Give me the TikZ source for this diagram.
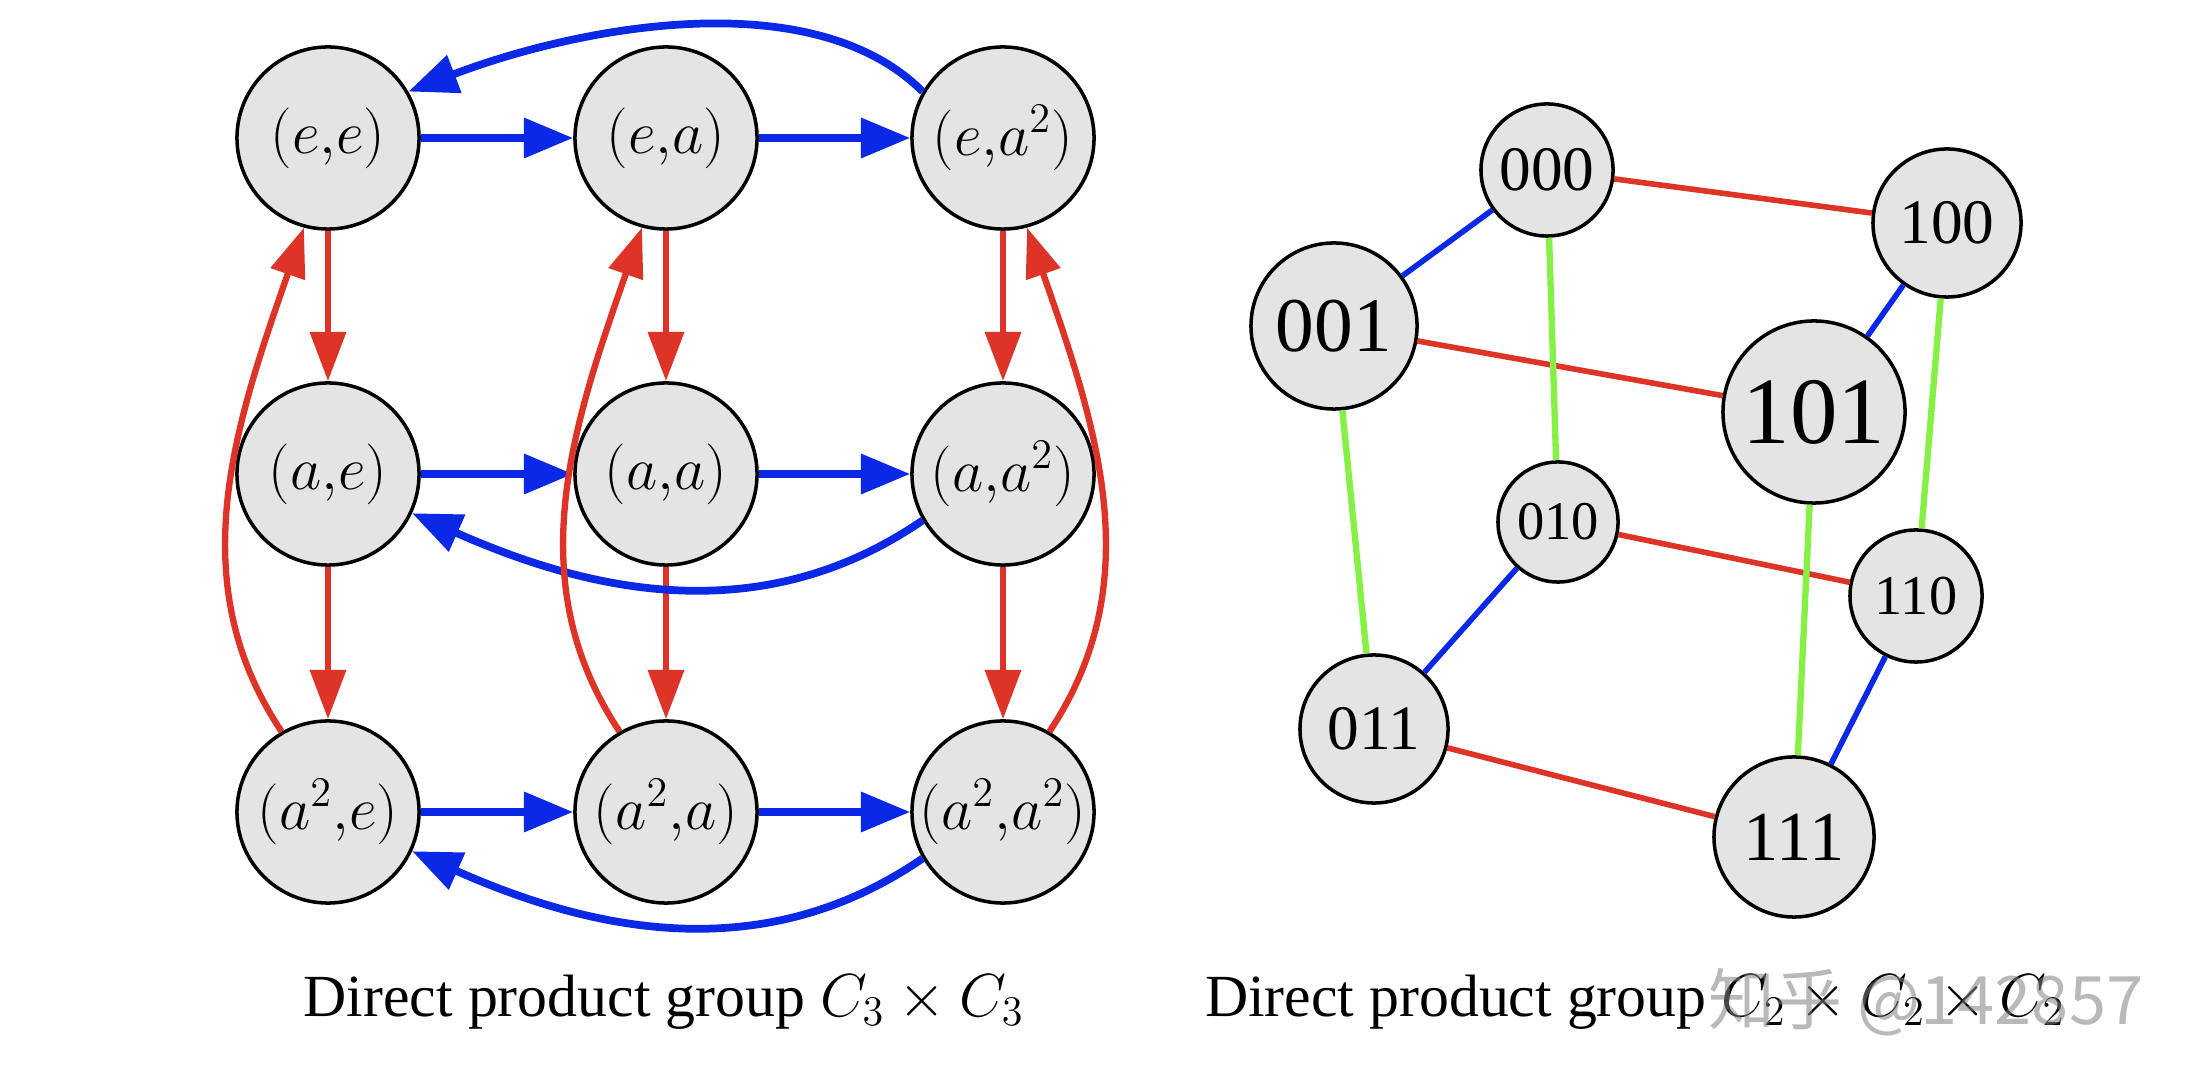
\documentclass[tikz,border=0pt]{standalone}
\usepackage{fontspec}
\setmainfont{Liberation Serif}
\newfontfamily\cjk{Noto Sans CJK SC}
\usetikzlibrary{arrows.meta}
\definecolor{eb}{RGB}{10,40,230}
\definecolor{er}{RGB}{222,52,40}
\definecolor{eg}{RGB}{135,240,70}
\definecolor{nf}{RGB}{228,228,228}
\begin{document}
\begin{tikzpicture}[x=0.01cm,y=-0.01cm,
  nd/.style={circle,draw=black,line width=1pt,fill=nf,inner sep=0pt},
  gn/.style={nd,minimum size=1.82cm,font=\fontsize{18.5}{22}\selectfont},
  bl/.style={draw=eb,line width=2.2pt,-{Triangle[length=14pt,width=11pt]}},
  rd/.style={draw=er,line width=1.8pt,-{Triangle[length=14pt,width=10pt]}},
  cb/.style={draw=eb,line width=1.6pt},
  cr/.style={draw=er,line width=1.6pt},
  cg/.style={draw=eg,line width=1.8pt}]
\useasboundingbox (0,0) rectangle (2200,1086);
% grid
\node[gn] (ee) at (328,138) {$(e,\!e)$};
\node[gn] (ea) at (666,138) {$(e,\!a)$};
\node[gn] (ea2) at (1003,138) {$(e,\!a^2)$};
\node[gn] (ae) at (328,474) {$(a,\!e)$};
\node[gn] (aa) at (666,474) {$(a,\!a)$};
\node[gn] (aa2) at (1003,474) {$(a,\!a^2)$};
\node[gn] (a2e) at (328,812) {$(a^2,\!e)$};
\node[gn] (a2a) at (666,812) {$(a^2,\!a)$};
\node[gn] (a2a2) at (1003,812) {$(a^2,\!a^{2})$};
\foreach \a/\b in {ee/ea,ea/ea2,ae/aa,aa/aa2,a2e/a2a,a2a/a2a2}{\draw[bl] (\a) -- (\b);}
\foreach \a/\b in {ee/ae,ae/a2e,ea/aa,aa/a2a,ea2/aa2,aa2/a2a2}{\draw[rd] (\a) -- (\b);}
\draw[bl] (ea2.150) .. controls +(-110,-110) and +(170,-65) .. (ee.30);
\draw[bl] (aa2.-150) .. controls +(-160,110) and +(180,80) .. (ae.-25);
\draw[bl] (a2a2.-150) .. controls +(-160,110) and +(180,80) .. (a2e.-25);
\draw[rd] (a2e.120) .. controls +(-100,-150) and +(-70,200) .. (ee.-105);
\draw[rd] (a2a.120) .. controls +(-100,-150) and +(-70,200) .. (ea.-105);
\draw[rd] (a2a2.60) .. controls +(100,-150) and +(70,200) .. (ea2.-75);
% cube
\node[nd,minimum size=1.32cm,font=\fontsize{18}{22}\selectfont] (n000) at (1547,170) {000};
\node[nd,minimum size=1.48cm,font=\fontsize{18}{22}\selectfont] (n100) at (1947,223) {100};
\node[nd,minimum size=1.66cm,font=\fontsize{22}{26}\selectfont] (n001) at (1334,326) {001};
\node[nd,minimum size=1.82cm,font=\fontsize{27}{32}\selectfont] (n101) at (1814,412) {101};
\node[nd,minimum size=1.2cm,font=\fontsize{15.5}{19}\selectfont] (n010) at (1558,522) {010};
\node[nd,minimum size=1.32cm,font=\fontsize{16}{20}\selectfont] (n110) at (1916,596) {110};
\node[nd,minimum size=1.48cm,font=\fontsize{18}{22}\selectfont] (n011) at (1374,729) {011};
\node[nd,minimum size=1.6cm,font=\fontsize{20}{24}\selectfont] (n111) at (1794,837) {111};
\foreach \a/\b in {n000/n100,n001/n101,n010/n110,n011/n111}{\draw[cr] (\a) -- (\b);}
\foreach \a/\b in {n000/n001,n100/n101,n010/n011,n110/n111}{\draw[cb] (\a) -- (\b);}
\foreach \a/\b in {n000/n010,n100/n110,n001/n011,n101/n111}{\draw[cg] (\a) -- (\b);}
% captions
\node[font=\fontsize{17}{20}\selectfont] (c1) at (664,1002) {Direct product group $C_3\times C_3$};
\node[font=\fontsize{17}{20}\selectfont] (c2) at (1635,1002) {Direct product group $C_2\times C_2\times C_2$};
\node[font=\cjk\fontsize{19}{22}\selectfont,text=gray,opacity=0.55] (wm) at (1926,1002) {知乎 @142857};
\end{tikzpicture}
\end{document}
